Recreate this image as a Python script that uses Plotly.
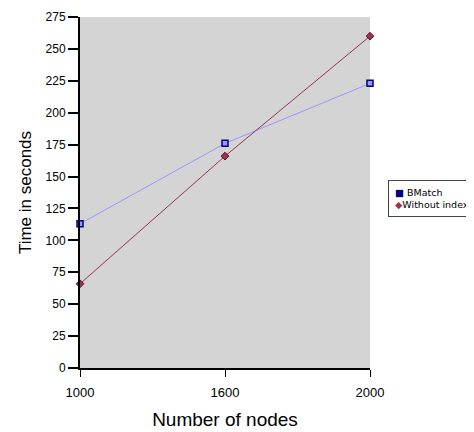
import plotly.graph_objects as go

nodes = ["1000", "1600", "2000"]
bmatch = [113, 176, 223]
without_index = [66, 166, 260]
y_ticks = [0, 25, 50, 75, 100, 125, 150, 175, 200, 225, 250, 275]
series_names = ["BMatch", "Without index"]

blue = "#9999ff"
navy = "#000080"
red = "#993355"
darkred = "#661122"

fig = go.Figure()
fig.add_trace(go.Scatter(
    x=nodes, y=bmatch, name=series_names[0], mode="lines+markers",
    line=dict(color=blue, width=1),
    marker=dict(symbol="square", size=6, color=blue,
                line=dict(color=navy, width=1.5)),
    cliponaxis=False, showlegend=False,
))
fig.add_trace(go.Scatter(
    x=nodes, y=without_index, name=series_names[1], mode="lines+markers",
    line=dict(color=red, width=1),
    marker=dict(symbol="diamond", size=6, color=red,
                line=dict(color=darkred, width=1)),
    cliponaxis=False, showlegend=False,
))

legend_text = (
    f"<span style='color:{navy}'>■</span> {series_names[0]}<br>"
    f"<span style='color:{red}'>◆</span>{series_names[1]}"
)
fig.add_annotation(
    xref="paper", yref="paper", x=1.063, y=0.535,
    xanchor="left", yanchor="top", align="left",
    text=legend_text, showarrow=False,
    font=dict(size=9.5, family="DejaVu Sans, sans-serif", color="black"),
    bgcolor="white", bordercolor="#444444", borderwidth=1, borderpad=6,
)

fig.update_layout(
    width=474, height=432,
    margin=dict(l=72, r=112, t=9, b=72, autoexpand=False),
    paper_bgcolor="white",
    plot_bgcolor="#d4d4d4",
    font=dict(family="Liberation Sans, Arial, sans-serif", color="black", size=12),
    showlegend=False,
)
fig.update_xaxes(
    type="category", range=[0, 2],
    showgrid=False, zeroline=False,
    showline=True, linecolor="black", linewidth=2,
    ticks="outside", ticklen=7, tickcolor="black", tickwidth=1,
    ticklabelstandoff=4,
    tickfont=dict(size=13),
    title=dict(text="Number of nodes", font=dict(size=19), standoff=14),
)
fig.update_yaxes(
    range=[0, 275], tickvals=y_ticks,
    showgrid=False, zeroline=False,
    showline=True, linecolor="black", linewidth=2,
    ticks="outside", ticklen=10, tickcolor="black", tickwidth=2,
    tickfont=dict(size=12),
    title=dict(text="Time in seconds", font=dict(size=17), standoff=10),
)

fig.write_html("out.html")
